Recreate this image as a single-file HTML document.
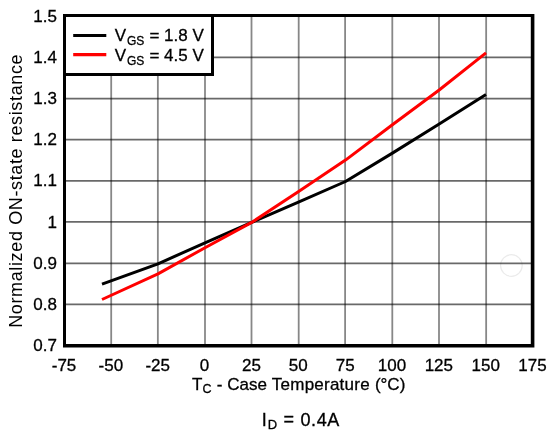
<!DOCTYPE html>
<html><head><meta charset="utf-8"><style>
html,body{margin:0;padding:0;background:#fff;}
svg{display:block;}
text{font-family:"Liberation Sans",Arial,sans-serif;fill:#000;stroke:#000;stroke-width:0.3px;}
</style></head><body>
<svg width="550" height="434" viewBox="0 0 550 434">
<rect x="0" y="0" width="550" height="434" fill="#fff"/>
<circle cx="511.4" cy="265.5" r="10.8" fill="none" stroke="#ebebeb" stroke-width="1.2"/>
<g stroke="#000" stroke-opacity="0.47" stroke-width="1.8" fill="none">
<line x1="111.20" y1="16" x2="111.20" y2="345.5"/>
<line x1="157.85" y1="16" x2="157.85" y2="345.5"/>
<line x1="205.00" y1="16" x2="205.00" y2="345.5"/>
<line x1="251.50" y1="16" x2="251.50" y2="345.5"/>
<line x1="298.70" y1="16" x2="298.70" y2="345.5"/>
<line x1="345.10" y1="16" x2="345.10" y2="345.5"/>
<line x1="392.30" y1="16" x2="392.30" y2="345.5"/>
<line x1="439.00" y1="16" x2="439.00" y2="345.5"/>
<line x1="486.15" y1="16" x2="486.15" y2="345.5"/>
</g>
<g stroke="#000" stroke-opacity="0.59" stroke-width="1.75" fill="none">
<line x1="65" y1="304.30" x2="532" y2="304.30"/>
<line x1="65" y1="263.30" x2="532" y2="263.30"/>
<line x1="65" y1="221.90" x2="532" y2="221.90"/>
<line x1="65" y1="180.80" x2="532" y2="180.80"/>
<line x1="65" y1="139.70" x2="532" y2="139.70"/>
<line x1="65" y1="98.55" x2="532" y2="98.55"/>
<line x1="65" y1="57.45" x2="532" y2="57.45"/>
</g>
<polyline points="102.0,284.2 158.0,263.8 205.0,242.8 251.7,222.4 299.0,201.9 345.5,181.5 392.4,153.1 439.2,124.0 486.0,94.4" fill="none" stroke="#000" stroke-width="3" stroke-linejoin="round"/>
<polyline points="102.0,299.5 158.0,273.9 205.0,247.7 251.7,222.4 299.0,191.2 345.5,160.1 392.4,124.8 439.2,90.0 486.0,52.9" fill="none" stroke="#f00" stroke-width="3" stroke-linejoin="round"/>
<path fill="#000" fill-rule="evenodd" d="M63 14H534.4V347.5H63Z M66 17V343.9H530.8V17Z"/>
<rect x="64.5" y="15.5" width="148" height="59" fill="#fff" stroke="#000" stroke-width="3"/>
<line x1="73.2" y1="35.5" x2="106.3" y2="35.5" stroke="#000" stroke-width="3.2"/>
<line x1="73.2" y1="54.6" x2="106.3" y2="54.6" stroke="#f00" stroke-width="3.2"/>
<g font-size="17">
<text x="57.0" y="351.10" text-anchor="end">0.7</text>
<text x="57.0" y="309.90" text-anchor="end">0.8</text>
<text x="57.0" y="268.70" text-anchor="end">0.9</text>
<text x="57.0" y="227.50" text-anchor="end">1</text>
<text x="57.0" y="186.30" text-anchor="end">1.1</text>
<text x="57.0" y="145.10" text-anchor="end">1.2</text>
<text x="57.0" y="103.90" text-anchor="end">1.3</text>
<text x="57.0" y="62.70" text-anchor="end">1.4</text>
<text x="57.0" y="21.50" text-anchor="end">1.5</text>
<text x="64.05" y="371" text-anchor="middle">-75</text>
<text x="110.90" y="371" text-anchor="middle">-50</text>
<text x="157.75" y="371" text-anchor="middle">-25</text>
<text x="204.60" y="371" text-anchor="middle">0</text>
<text x="251.45" y="371" text-anchor="middle">25</text>
<text x="298.30" y="371" text-anchor="middle">50</text>
<text x="345.15" y="371" text-anchor="middle">75</text>
<text x="392.00" y="371" text-anchor="middle">100</text>
<text x="438.85" y="371" text-anchor="middle">125</text>
<text x="485.70" y="371" text-anchor="middle">150</text>
<text x="532.55" y="371" text-anchor="middle">175</text>
</g>
<text y="41.4" font-size="17"><tspan x="114.8">V</tspan><tspan x="127.0" y="44.5" font-size="12">GS </tspan><tspan x="149.4" y="41.4">= 1.8 V</tspan></text>
<text y="61.2" font-size="17"><tspan x="114.8">V</tspan><tspan x="127.0" y="64.5" font-size="12">GS </tspan><tspan x="149.4" y="61.2">= 4.5 V</tspan></text>
<text y="389.7" font-size="17"><tspan x="192.0">T</tspan><tspan x="202.4" y="392.5" font-size="12.5">C </tspan><tspan x="216.85" y="389.7">- Case </tspan><tspan x="271.8" style="letter-spacing:0.24px">Temperature </tspan><tspan x="374.9">(°C)</tspan></text>
<text y="425.7" font-size="18"><tspan x="261.8">I</tspan><tspan x="267.7" y="429" font-size="13">D </tspan><tspan x="283.5" y="425.1">= </tspan><tspan x="300.5" y="425.7" style="letter-spacing:0.6px">0.4A</tspan></text>
<text transform="translate(22.4,327.8) rotate(-90) scale(1.0,1)" font-size="18" style="font-family:'Liberation Sans',sans-serif;letter-spacing:0.63px;stroke-width:0px">Normalized ON-state resistance</text>
</svg>
</body></html>
